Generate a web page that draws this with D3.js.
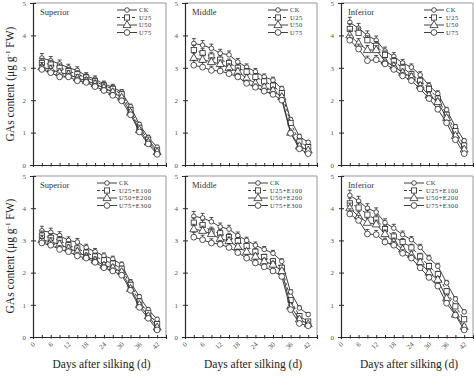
<!DOCTYPE html>
<html>
<head>
<meta charset="utf-8">
<script src="https://cdn.jsdelivr.net/npm/d3@7"></script>
<style>
	body { margin: 0; background: #fff; }
	svg { display: block; }
	svg text { font-family: "Liberation Serif", "Times New Roman", serif; }
</style>
</head>
<body>
<div id="main-container"></div>
<script>

// ---- data ----
var days = [3, 6, 9, 12, 15, 18, 21, 24, 27, 30, 33, 36, 39, 42];
var xTicks = [0, 6, 12, 18, 24, 30, 36, 42];
var yTicks = [0, 1, 2, 3, 4, 5];

var topLegend = ["CK", "U25", "U50", "U75"];
var bottomLegend = ["CK", "U25+E100", "U50+E200", "U75+E300"];
var panelNames = ["Superior", "Middle", "Inferior"];

// top row (urea)
var supCK  = [3.30, 3.22, 3.12, 3.00, 2.92, 2.75, 2.65, 2.50, 2.40, 2.25, 1.80, 1.25, 0.85, 0.55];
var supU25 = [3.15, 3.10, 3.00, 2.90, 2.80, 2.70, 2.58, 2.45, 2.35, 2.18, 1.70, 1.15, 0.78, 0.45];
var supU50 = [3.02, 2.95, 2.85, 2.80, 2.68, 2.60, 2.50, 2.38, 2.25, 2.08, 1.62, 1.08, 0.70, 0.40];
var supU75 = [2.95, 2.85, 2.72, 2.72, 2.60, 2.55, 2.42, 2.30, 2.15, 1.98, 1.55, 1.02, 0.65, 0.33];

var midCK  = [3.75, 3.70, 3.60, 3.45, 3.40, 3.18, 3.02, 2.88, 2.72, 2.62, 2.35, 1.40, 0.88, 0.70];
var midU25 = [3.55, 3.45, 3.35, 3.25, 3.15, 3.00, 2.88, 2.72, 2.58, 2.45, 2.22, 1.30, 0.72, 0.55];
var midU50 = [3.30, 3.25, 3.18, 3.12, 3.00, 2.88, 2.68, 2.52, 2.40, 2.30, 2.10, 1.00, 0.58, 0.45];
var midU75 = [3.08, 3.02, 2.92, 2.90, 2.82, 2.72, 2.52, 2.40, 2.28, 2.18, 2.00, 0.98, 0.50, 0.35];

var infCK  = [4.40, 4.22, 4.00, 3.85, 3.52, 3.35, 3.15, 3.02, 2.78, 2.45, 2.20, 1.70, 1.18, 0.75];
var infU25 = [4.20, 4.08, 3.85, 3.68, 3.40, 3.20, 3.00, 2.80, 2.60, 2.35, 2.05, 1.55, 1.05, 0.60];
var infU50 = [4.00, 3.75, 3.55, 3.55, 3.20, 3.05, 2.85, 2.72, 2.45, 2.15, 1.95, 1.45, 0.90, 0.48];
var infU75 = [3.85, 3.58, 3.22, 3.25, 3.12, 2.95, 2.75, 2.60, 2.35, 2.05, 1.72, 1.30, 0.78, 0.35];

// bottom row (urea + enzyme)
var supE0   = [3.30, 3.25, 3.15, 3.00, 2.95, 2.78, 2.65, 2.52, 2.42, 2.25, 1.70, 1.25, 0.85, 0.55];
var supE100 = [3.15, 3.08, 3.00, 2.85, 2.75, 2.62, 2.50, 2.38, 2.28, 2.12, 1.62, 1.10, 0.75, 0.40];
var supE200 = [3.02, 2.95, 2.88, 2.75, 2.65, 2.50, 2.38, 2.22, 2.15, 2.02, 1.50, 1.00, 0.65, 0.30];
var supE300 = [2.92, 2.85, 2.72, 2.65, 2.52, 2.45, 2.32, 2.15, 2.05, 1.92, 1.45, 0.92, 0.58, 0.22];

var midE0   = [3.75, 3.70, 3.58, 3.42, 3.35, 3.15, 3.00, 2.85, 2.72, 2.60, 2.35, 1.40, 0.90, 0.70];
var midE100 = [3.55, 3.48, 3.28, 3.22, 3.10, 2.98, 2.82, 2.65, 2.48, 2.35, 2.15, 1.15, 0.65, 0.48];
var midE200 = [3.35, 3.30, 3.20, 3.05, 2.98, 2.80, 2.65, 2.50, 2.35, 2.25, 2.05, 0.95, 0.55, 0.40];
var midE300 = [3.10, 3.02, 2.92, 2.88, 2.78, 2.62, 2.45, 2.30, 2.18, 2.05, 1.88, 0.85, 0.42, 0.35];

var infE0   = [4.40, 4.22, 4.00, 3.88, 3.55, 3.38, 3.18, 3.02, 2.78, 2.45, 2.20, 1.68, 1.18, 0.78];
var infE100 = [4.15, 4.02, 3.80, 3.65, 3.35, 3.12, 2.95, 2.78, 2.50, 2.20, 1.95, 1.42, 0.95, 0.55];
var infE200 = [4.00, 3.75, 3.55, 3.50, 3.20, 2.95, 2.72, 2.55, 2.32, 2.00, 1.78, 1.20, 0.70, 0.32];
var infE300 = [3.82, 3.62, 3.20, 3.18, 2.95, 2.85, 2.60, 2.45, 2.15, 1.85, 1.58, 1.05, 0.68, 0.22];

// standard errors (shared by the four curves of a panel)
var supErr = [0.14, 0.13, 0.12, 0.11, 0.11, 0.10, 0.10, 0.09, 0.09, 0.08, 0.08, 0.07, 0.07, 0.06];
var midErr = [0.15, 0.14, 0.13, 0.12, 0.12, 0.11, 0.10, 0.10, 0.09, 0.09, 0.08, 0.07, 0.07, 0.06];
var infErr = [0.16, 0.15, 0.14, 0.13, 0.12, 0.12, 0.11, 0.10, 0.10, 0.09, 0.09, 0.08, 0.07, 0.06];


//*******************************************************************************************
//
//		LAYOUT
//
//*******************************************************************************************

var W = 474, H = 379;
var colX = [[33, 166], [185, 317], [341, 473]];
var rowY = [[3, 165], [176, 337]];
var markers = ["circle", "square", "triangle", "ring"];
var ink = "#2a2a2a";
var serif = "Liberation Serif, Times New Roman, serif";

var panels = [
	{ row: 0, col: 0, series: [supCK, supU25, supU50, supU75], err: supErr, legend: topLegend },
	{ row: 0, col: 1, series: [midCK, midU25, midU50, midU75], err: midErr, legend: topLegend },
	{ row: 0, col: 2, series: [infCK, infU25, infU50, infU75], err: infErr, legend: topLegend },
	{ row: 1, col: 0, series: [supE0, supE100, supE200, supE300], err: supErr, legend: bottomLegend },
	{ row: 1, col: 1, series: [midE0, midE100, midE200, midE300], err: midErr, legend: bottomLegend },
	{ row: 1, col: 2, series: [infE0, infE100, infE200, infE300], err: infErr, legend: bottomLegend }
];

var svg = d3.select("#main-container").append("svg")
	.attr("width", W)
	.attr("height", H);


function drawMarker(g, type, cx, cy) {
	if (type == "square") {
		g.append("rect")
			.attr("x", cx - 2.6).attr("y", cy - 2.6)
			.attr("width", 5.2).attr("height", 5.2)
			.attr("fill", "#fff").attr("stroke", ink).attr("stroke-width", 0.8);
	} else if (type == "triangle") {
		var s = d3.symbol().type(d3.symbolTriangle).size(28);
		g.append("path")
			.attr("d", s())
			.attr("transform", "translate(" + cx + "," + (cy + 0.3) + ")")
			.attr("fill", "#fff").attr("stroke", ink).attr("stroke-width", 0.8);
	} else {
		g.append("circle")
			.attr("cx", cx).attr("cy", cy)
			.attr("r", type == "ring" ? 2.9 : 2.3)
			.attr("fill", "#fff").attr("stroke", ink).attr("stroke-width", 0.8);
	}
}


function drawPanel(p) {
	var x0 = colX[p.col][0], x1 = colX[p.col][1];
	var y0 = rowY[p.row][0], y1 = rowY[p.row][1];

	var x = d3.scaleLinear().domain([0, 45]).range([x0, x1]);
	var y = d3.scaleLinear().domain([0, 5]).range([y1, y0]);

	var g = svg.append("g");

	// frame (top / right lighter)
	g.append("path")
		.attr("d", "M" + x0 + "," + y0 + "H" + x1 + "V" + y1)
		.attr("fill", "none")
		.attr("stroke", "#999")
		.attr("stroke-width", 1);

	// y axis
	var yAxis = d3.axisLeft(y).tickValues(yTicks).tickFormat(d3.format("d")).tickSize(3).tickPadding(4);
	var ya = g.append("g")
		.attr("transform", "translate(" + x0 + ",0)")
		.call(yAxis)
		.attr("font-family", serif);
	ya.select(".domain").attr("stroke", ink).attr("stroke-width", 1.2);
	ya.selectAll(".tick line").attr("stroke", ink).attr("x2", 3).attr("x1", -2);
	ya.selectAll("text").attr("font-size", 7).attr("fill", "#555");

	// x axis
	var minor = d3.range(0, 46, 3);
	var xAxis = d3.axisBottom(x).tickValues(minor).tickSize(2).tickFormat("");
	var xa = g.append("g")
		.attr("transform", "translate(0," + y1 + ")")
		.call(xAxis);
	xa.select(".domain").attr("stroke", ink).attr("stroke-width", 1.2);
	xa.selectAll(".tick line").attr("stroke", ink).attr("y1", -2).attr("y2", 1.5);

	if (p.row == 1) {
		g.selectAll(".xlab")
			.data(xTicks)
			.enter()
			.append("text")
			.attr("class", "xlab")
			.attr("transform", function(d) {
				return "translate(" + (x(d) + 1) + "," + (y1 + 6) + ") rotate(-45)";
			})
			.attr("text-anchor", "end")
			.attr("dy", "0.35em")
			.attr("font-size", 7)
			.attr("fill", "#555")
			.text(function(d) { return d; });

		g.append("text")
			.attr("x", (x0 + x1) / 2 + 2)
			.attr("y", 368)
			.attr("text-anchor", "middle")
			.attr("font-size", 11.5)
			.attr("fill", "#222")
			.text("Days after silking (d)");
	}

	// panel name
	g.append("text")
		.attr("x", x0 + 7)
		.attr("y", y0 + 12)
		.attr("font-size", 8.5)
		.attr("fill", "#333")
		.text(panelNames[p.col]);

	// legend
	var lx = p.row == 0 ? x1 - 49 : x1 - 69, ly = y0 + 7;
	p.legend.forEach(function(name, i) {
		var yy = ly + i * 7.5;
		g.append("line")
			.attr("x1", lx).attr("x2", lx + 20)
			.attr("y1", yy).attr("y2", yy)
			.attr("stroke", ink).attr("stroke-width", 0.9)
			.attr("stroke-dasharray", i == 1 ? "3,2" : null);
		drawMarker(g, markers[i], lx + 10, yy);
		g.append("text")
			.attr("x", lx + 22)
			.attr("y", yy)
			.attr("dy", "0.35em")
			.attr("font-size", 6.5)
			.attr("letter-spacing", 0.5)
			.attr("fill", "#333")
			.text(name);
	});

	// curves
	var line = d3.line()
		.x(function(d) { return x(d[0]); })
		.y(function(d) { return y(d[1]); });

	p.series.forEach(function(vals, i) {
		var pts = days.map(function(d, k) { return [d, vals[k]]; });
		g.append("path")
			.datum(pts)
			.attr("d", line)
			.attr("fill", "none")
			.attr("stroke", ink)
			.attr("stroke-width", 0.9)
			.attr("stroke-dasharray", i == 1 ? "3,2" : null);

		pts.forEach(function(pt, k) {
			var top = y(pt[1] + p.err[k]);
			g.append("line")
				.attr("x1", x(pt[0])).attr("x2", x(pt[0]))
				.attr("y1", y(pt[1])).attr("y2", top)
				.attr("stroke", ink).attr("stroke-width", 0.8);
			g.append("line")
				.attr("x1", x(pt[0]) - 2).attr("x2", x(pt[0]) + 2)
				.attr("y1", top).attr("y2", top)
				.attr("stroke", ink).attr("stroke-width", 0.8);
		});
		pts.forEach(function(pt) {
			drawMarker(g, markers[i], x(pt[0]), y(pt[1]));
		});
	});
}

panels.forEach(drawPanel);

// y titles
[84, 256].forEach(function(cy) {
	svg.append("text")
		.attr("transform", "translate(14," + cy + ") rotate(-90)")
		.attr("text-anchor", "middle")
		.attr("font-size", 11.5)
		.attr("fill", "#222")
		.html("GAs content (μg g<tspan dy='-4' font-size='7'>-1</tspan><tspan dy='4'> FW)</tspan>");
});

</script>
</body>
</html>
